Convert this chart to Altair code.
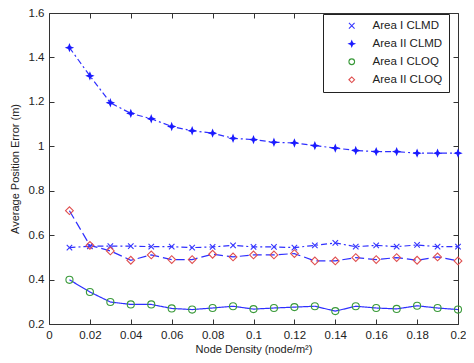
import altair as alt
import pandas as pd

density = [0.01, 0.02, 0.03, 0.04, 0.05, 0.06, 0.07, 0.08, 0.09, 0.10,
           0.11, 0.12, 0.13, 0.14, 0.15, 0.16, 0.17, 0.18, 0.19, 0.20]

area1_clmd = [0.544, 0.550, 0.551, 0.551, 0.548, 0.548, 0.544, 0.547, 0.554, 0.547,
              0.547, 0.544, 0.554, 0.565, 0.548, 0.554, 0.548, 0.556, 0.548, 0.548]
area2_clmd = [1.444, 1.317, 1.196, 1.148, 1.124, 1.089, 1.070, 1.059, 1.036, 1.030,
              1.018, 1.015, 1.003, 0.992, 0.981, 0.976, 0.976, 0.969, 0.969, 0.969]
area1_cloq = [0.399, 0.344, 0.299, 0.288, 0.288, 0.270, 0.265, 0.272, 0.280, 0.267,
              0.272, 0.276, 0.280, 0.258, 0.280, 0.272, 0.268, 0.282, 0.272, 0.265]
area2_cloq = [0.710, 0.554, 0.529, 0.487, 0.511, 0.490, 0.490, 0.514, 0.502, 0.511,
              0.511, 0.517, 0.484, 0.484, 0.499, 0.490, 0.499, 0.487, 0.502, 0.484]

series_names = ["Area I CLMD", "Area II CLMD", "Area I CLOQ", "Area II CLOQ"]
line_styles = ["dashdot-a", "dashdot-b", "solid", "dashed"]
x_ticks = [0, 0.02, 0.04, 0.06, 0.08, 0.1, 0.12, 0.14, 0.16, 0.18, 0.2]
y_ticks = [0.2, 0.4, 0.6, 0.8, 1.0, 1.2, 1.4, 1.6]

rows = []
for name, sty, vals in zip(series_names, line_styles,
                           [area1_clmd, area2_clmd, area1_cloq, area2_cloq]):
    for d, v in zip(density, vals):
        rows.append({"density": d, "error": v, "series": name, "style": sty})
df = pd.DataFrame(rows)

FONT = "Liberation Sans"
LINE_BLUE = "#2f2fff"
star = "M0,-1L0.28,-0.28L1,0L0.28,0.28L0,1L-0.28,0.28L-1,0L-0.28,-0.28Z"
xmark = "M-1,-1L1,1M1,-1L-1,1"

xscale = alt.Scale(domain=[0, 0.2], nice=False, zero=False)
yscale = alt.Scale(domain=[0.2, 1.6], nice=False, zero=False)

inward = {"expr": "-5"}

x_axis = alt.Axis(values=x_ticks, format="~g", title="Node Density (node/m²)",
                  tickSize=inward, labelPadding=10, domain=False, grid=False,
                  labelFontSize=11.5, titleFontSize=11, titlePadding=3,
                  titleFontWeight="normal", labelFlush=False)
y_axis = alt.Axis(values=y_ticks, format="~g", title="Average Position Error (m)",
                  tickSize=inward, labelPadding=10, domain=False, grid=False,
                  labelFontSize=11.5, titleFontSize=11, titlePadding=8,
                  titleFontWeight="normal", labelFlush=False)

lines = alt.Chart(df).mark_line(color=LINE_BLUE, strokeWidth=1.2).encode(
    x=alt.X("density:Q", scale=xscale, axis=x_axis),
    y=alt.Y("error:Q", scale=yscale, axis=y_axis),
    strokeDash=alt.StrokeDash("style:N", legend=None,
                              scale=alt.Scale(domain=line_styles,
                                              range=[[6, 3, 2, 3], [6, 3, 2, 3], [1, 0], [9, 4]])),
    detail="series:N",
)

legend = alt.Legend(title=None, orient="none", legendX=274, legendY=1,
                    labelFont=FONT, labelFontSize=11.5, labelColor="#222",
                    strokeColor="#222", fillColor="white", padding=6,
                    symbolOffset=17, labelOffset=15, rowPadding=5,
                    symbolStrokeWidth=1.1, symbolSize=32, cornerRadius=0)

points = alt.Chart(df).mark_point(filled=False, strokeWidth=1.1, opacity=1).encode(
    x=alt.X("density:Q", scale=xscale, axis=None),
    y=alt.Y("error:Q", scale=yscale, axis=None),
    shape=alt.Shape("series:N", legend=legend,
                    scale=alt.Scale(domain=series_names,
                                    range=[xmark, star, "circle", "diamond"])),
    stroke=alt.Stroke("series:N", legend=legend,
                      scale=alt.Scale(domain=series_names,
                                      range=["#3535ff", "#1a1aff", "#3a9a3a", "#e05050"])),
    fill=alt.Fill("series:N", legend=legend,
                  scale=alt.Scale(domain=series_names,
                                  range=["transparent", "#1a1aff", "transparent", "transparent"])),
    size=alt.Size("style:N", legend=None,
                  scale=alt.Scale(domain=line_styles, range=[30, 60, 90, 110])),
)

frame = alt.Chart(df).mark_point(opacity=0).encode(
    x=alt.X("density:Q", scale=xscale,
            axis=alt.Axis(orient="top", values=x_ticks, labels=False, title=None,
                          tickSize=inward, domain=False, grid=False)),
    y=alt.Y("error:Q", scale=yscale,
            axis=alt.Axis(orient="right", values=y_ticks, labels=False, title=None,
                          tickSize=inward, domain=False, grid=False)),
)

chart = alt.layer(lines, points, frame).resolve_axis(
    x="independent", y="independent"
).properties(
    width=409, height=311,
    background="white",
    autosize=alt.AutoSizeParams(type="none"),
    padding={"left": 41, "top": 5, "right": 8, "bottom": 31},
).configure_view(
    stroke="#333", strokeWidth=1
).configure_axis(
    labelFont=FONT, titleFont=FONT, labelColor="#222", titleColor="#222",
    tickColor="#333", titleFontWeight="normal"
)

chart.save("out.html", embed_options={"renderer": "svg", "actions": False})
